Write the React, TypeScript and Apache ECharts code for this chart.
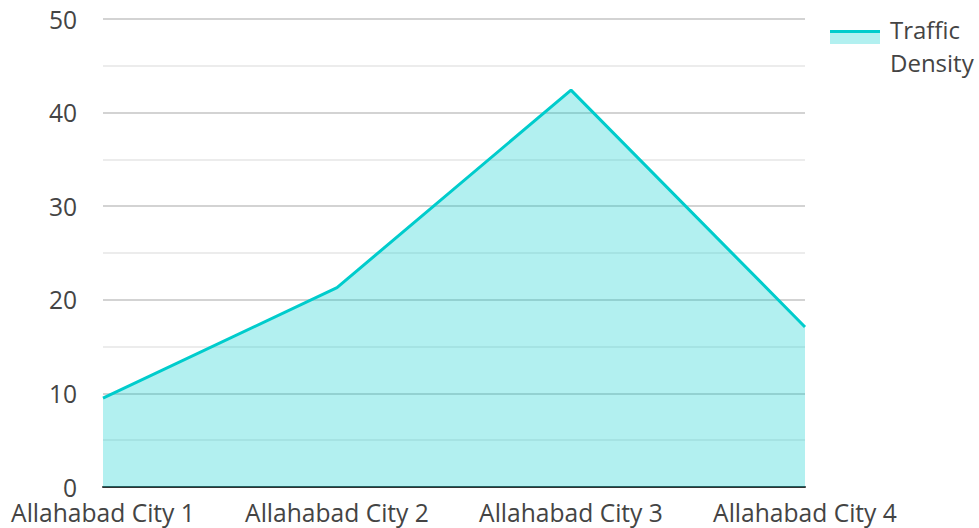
import React, { useEffect, useRef } from "react";
import * as echarts from "echarts";

const categories = ["Allahabad City 1", "Allahabad City 2", "Allahabad City 3", "Allahabad City 4"];
const seriesName = "Traffic Density";
const trafficDensity = [9.5, 21.3, 42.4, 17.1];
const yTicks = { min: 0, max: 50, interval: 10 };

export default function App() {
  const ref = useRef<HTMLDivElement>(null);
  useEffect(() => {
    if (!ref.current) return;
    const chart = echarts.init(ref.current, null, { renderer: "svg" });
    const font = "'Open Sans', 'Noto Sans', sans-serif";
    chart.setOption({
      animation: false,
      textStyle: { fontFamily: font },
      grid: { left: 103, right: 174, top: 19, bottom: 41, containLabel: false },
      xAxis: {
        type: "category",
        data: categories,
        boundaryGap: false,
        axisLine: { show: true, lineStyle: { color: "#333", width: 2 } },
        axisTick: { show: false },
        axisLabel: {
          color: "#444",
          fontSize: 24.6,
          fontFamily: font,
          margin: 15,
          lineHeight: 20,
          interval: 0,
          hideOverlap: false,
        },
        splitLine: { show: false },
      },
      yAxis: {
        type: "value",
        min: yTicks.min,
        max: yTicks.max,
        interval: yTicks.interval,
        axisLine: { show: false },
        axisTick: { show: false },
        axisLabel: { color: "#444", fontSize: 24.6, fontFamily: font, margin: 26, lineHeight: 18 },
        splitLine: { show: true, lineStyle: { color: "#c4c4c4", width: 1.5 } },
        minorTick: { show: false, splitNumber: 2 },
        minorSplitLine: { show: true, lineStyle: { color: "#e6e6e6", width: 1.5 } },
      },
      series: [
        {
          name: seriesName,
          type: "line",
          data: trafficDensity,
          symbol: "none",
          lineStyle: { color: "#00cccc", width: 3 },
          itemStyle: { color: "#00cccc" },
          areaStyle: { color: "#00cccc", opacity: 0.3 },
        },
      ],
      graphic: [
        { type: "rect", shape: { x: 830, y: 30, width: 50, height: 14 }, style: { fill: "rgba(0,204,204,0.3)" } },
        { type: "line", shape: { x1: 830, y1: 31.5, x2: 880, y2: 31.5 }, style: { stroke: "#00cccc", lineWidth: 3 } },
        {
          type: "text",
          x: 890,
          y: 13,
          style: { text: "Traffic\nDensity", fill: "#444", font: `24px ${font}`, lineHeight: 33 },
        },
      ],
    });
    return () => chart.dispose();
  }, []);
  return <div ref={ref} style={{ width: 979, height: 528, position: "absolute", left: 0, top: 0 }} />;
}
